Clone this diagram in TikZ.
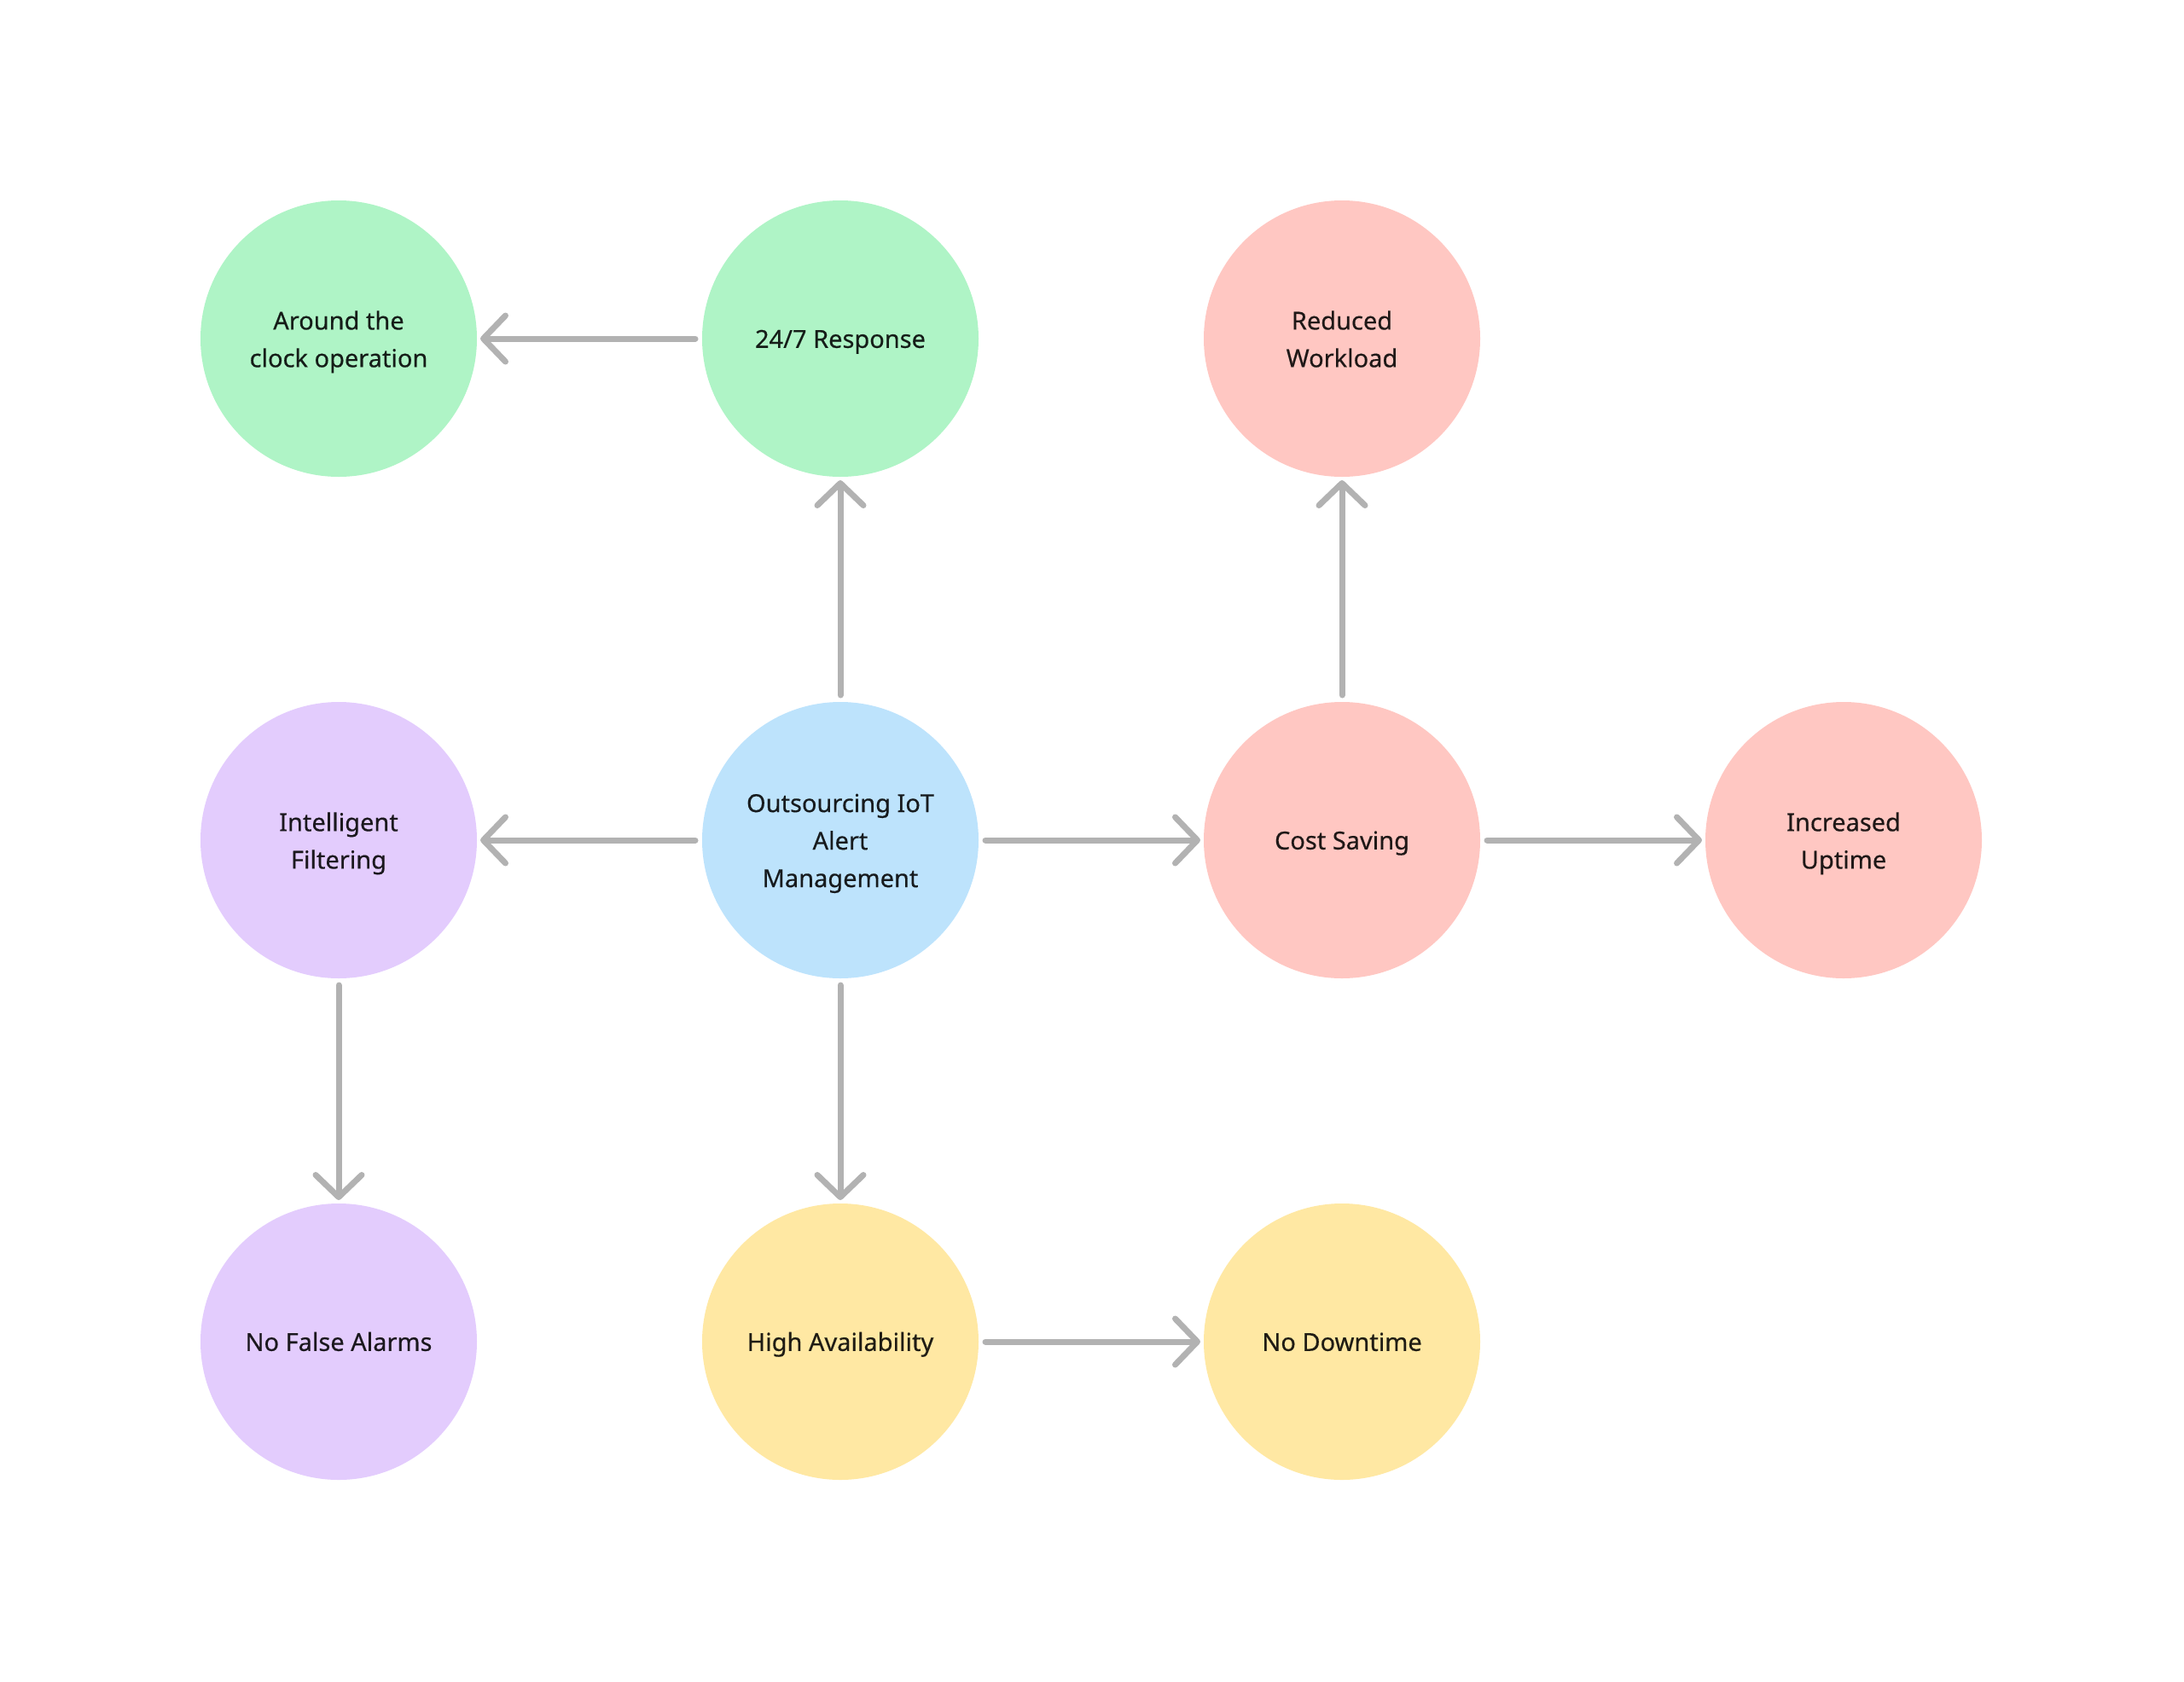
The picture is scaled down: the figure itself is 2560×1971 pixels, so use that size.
\documentclass[tikz,border=0pt]{standalone}
\usepackage{fontspec}
\setmainfont[FakeBold=0.35]{Noto Sans}
\usetikzlibrary{arrows.meta}
\definecolor{cgreen}{HTML}{AFF4C6}
\definecolor{cblue}{HTML}{BDE3FC}
\definecolor{cpink}{HTML}{FFC7C2}
\definecolor{cpurple}{HTML}{E3CCFD}
\definecolor{cyellow}{HTML}{FFE8A3}
\definecolor{cline}{HTML}{B2B2B2}
\tikzset{
  bubble/.style={circle, minimum size=324pt, inner sep=0pt, outer sep=4pt,
    draw=none},
  txt/.style={align=center, inner sep=0pt,
    font=\fontsize{29pt}{44pt}\selectfont\bfseries,
    execute at begin node=\strut, execute at end node=\strut},
  gbub/.style={bubble, fill=cgreen},
  bbub/.style={bubble, fill=cblue},
  pbub/.style={bubble, fill=cpink},
  vbub/.style={bubble, fill=cpurple},
  ybub/.style={bubble, fill=cyellow},
  gtxt/.style={txt, text=cgreen!12!black},
  btxt/.style={txt, text=cblue!12!black},
  ptxt/.style={txt, text=cpink!12!black},
  vtxt/.style={txt, text=cpurple!12!black},
  ytxt/.style={txt, text=cyellow!12!black},
  conn/.style={draw=cline, line width=7pt, line cap=round,
    -{Straight Barb[length=26pt, width=54pt, round]}, shorten <=4pt}
}
\begin{document}
\begin{tikzpicture}[x=1pt, y=-1pt]
\useasboundingbox (0,0) rectangle (2560,1971);
\node[gbub] (around) at (397,397) {};
\node[gbub] (resp) at (985,397) {};
\node[pbub] (workload) at (1573,397) {};
\node[vbub] (filter) at (397,985) {};
\node[bbub] (main) at (985,985) {};
\node[pbub] (cost) at (1573,985) {};
\node[pbub] (uptime) at (2161,985) {};
\node[vbub] (alarms) at (397,1573) {};
\node[ybub] (avail) at (985,1573) {};
\node[ybub] (down) at (1573,1573) {};
\node[gtxt] (aroundT) at ([yshift=-7pt]around.center) {Around the\\clock operation};
\node[gtxt] (respT) at ([yshift=-2pt]resp.center) {24/7 Response};
\node[ptxt] (workloadT) at ([yshift=-7pt]workload.center) {Reduced\\Workload};
\node[vtxt] (filterT) at ([yshift=-7pt]filter.center) {Intelligent\\Filtering};
\node[btxt] (mainT) at ([yshift=-7pt]main.center) {Outsourcing IoT\\Alert\\Management};
\node[ptxt] (costT) at ([yshift=-2pt]cost.center) {Cost Saving};
\node[ptxt] (uptimeT) at ([yshift=-7pt]uptime.center) {Increased\\Uptime};
\node[vtxt] (alarmsT) at ([yshift=-2pt]alarms.center) {No False Alarms};
\node[ytxt] (availT) at ([yshift=-2pt]avail.center) {High Availability};
\node[ytxt] (downT) at ([yshift=-2pt]down.center) {No Downtime};
\draw[conn] (resp) -- (around);
\draw[conn] (main) -- (resp);
\draw[conn] (cost) -- (workload);
\draw[conn] (main) -- (filter);
\draw[conn] (main) -- (cost);
\draw[conn] (cost) -- (uptime);
\draw[conn] (filter) -- (alarms);
\draw[conn] (main) -- (avail);
\draw[conn] (avail) -- (down);
\end{tikzpicture}
\end{document}
